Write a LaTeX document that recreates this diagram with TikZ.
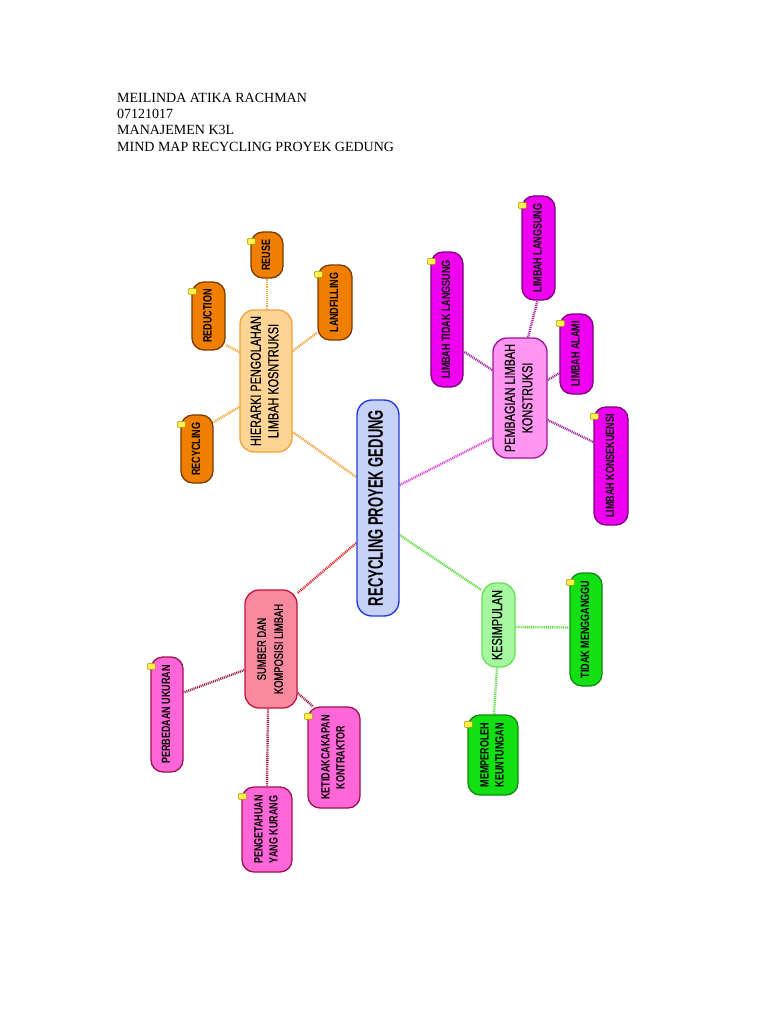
\documentclass[tikz,border=0pt]{standalone}
\usepackage{fontspec}
\usepackage{graphicx}
\usepackage{tikz}
\usetikzlibrary{calc, backgrounds}
\usepackage{xcolor}
\setmainfont{Liberation Serif}
\newfontfamily\mapfont[FakeStretch=0.75]{Liberation Sans}
\newfontfamily\midfont[FakeStretch=0.75, FakeBold=0.5]{Liberation Sans}
\newfontfamily\rootfont[FakeStretch=0.62]{Liberation Sans}

\definecolor{rootfill}{HTML}{C8D2F8}
\definecolor{rootline}{HTML}{1F3FE0}
\definecolor{orangemid}{HTML}{FFD596}
\definecolor{orangeline}{HTML}{F2A23A}
\definecolor{orangeleaf}{HTML}{F07F00}
\definecolor{brownline}{HTML}{7A3B00}
\definecolor{magentamid}{HTML}{FF96F2}
\definecolor{magentaline}{HTML}{A010A0}
\definecolor{magentaleaf}{HTML}{F000F0}
\definecolor{purpleline}{HTML}{7E007E}
\definecolor{magentalink}{HTML}{E040E0}
\definecolor{purplelink}{HTML}{A0209A}
\definecolor{redmid}{HTML}{F8899E}
\definecolor{redline}{HTML}{C4143E}
\definecolor{redlink}{HTML}{E0202A}
\definecolor{pinkleaf}{HTML}{FF66D8}
\definecolor{wineline}{HTML}{A0104C}
\definecolor{winelink}{HTML}{A01848}
\definecolor{greenmid}{HTML}{A6F8A0}
\definecolor{greenline}{HTML}{66E055}
\definecolor{greenleaf}{HTML}{12E012}
\definecolor{darkgreen}{HTML}{108A10}
\definecolor{greenlink}{HTML}{5CDC40}
\definecolor{notefill}{HTML}{FFF050}
\definecolor{noteline}{HTML}{A89A00}

\newcommand{\uptext}[1]{\rotatebox{90}{\begin{tabular}{@{}c@{}}#1\end{tabular}}}

\begin{document}
\begin{tikzpicture}[x=1pt, y=-1pt,
    rootbox/.style={draw=rootline, fill=rootfill, line width=1.4pt, rounded corners=15pt, inner sep=0pt, font=\rootfont\bfseries\fontsize{21}{24}\selectfont},
    midbox/.style 2 args={draw=#2, fill=#1, line width=1.3pt, rounded corners=14pt, inner sep=0pt, font=\midfont\fontsize{14.5}{17.5}\selectfont},
    leafbox/.style 2 args={draw=#2, fill=#1, line width=1.3pt, rounded corners=12pt, inner sep=0pt, font=\mapfont\bfseries\fontsize{12}{15}\selectfont},
    link/.style={draw=#1, line width=2.4pt, dash pattern=on 1pt off 0.9pt},
    noteicon/.style={draw=noteline, fill=notefill, line width=0.5pt, rounded corners=1pt, minimum width=8pt, minimum height=6pt, inner sep=0pt}]

    \node[anchor=north west, inner sep=0pt, align=left, font=\fontsize{14}{16.2}\selectfont] (title) at (117,93)
        {MEILINDA ATIKA RACHMAN\\07121017\\MANAJEMEN K3L\\MIND MAP RECYCLING PROYEK GEDUNG};

    \node[rootbox, minimum width=42, minimum height=216] (root) at (378,508) {\uptext{RECYCLING PROYEK GEDUNG}};

    % hierarki
    \node[midbox={orangemid}{orangeline}, minimum width=52, minimum height=142] (hierarki) at (266,381) {\uptext{HIERARKI PENGOLAHAN\\LIMBAH KOSNTRUKSI}};
    \node[leafbox={orangeleaf}{brownline}, minimum width=32, minimum height=46] (reuse) at (267,255) {\uptext{REUSE}};
    \node[leafbox={orangeleaf}{brownline}, minimum width=33, minimum height=68] (reduction) at (208.5,316) {\uptext{REDUCTION}};
    \node[leafbox={orangeleaf}{brownline}, minimum width=34, minimum height=75] (landfilling) at (335,302.5) {\uptext{LANDFILLING}};
    \node[leafbox={orangeleaf}{brownline}, minimum width=32, minimum height=68] (recycling) at (197,449) {\uptext{RECYCLING}};

    % pembagian
    \node[midbox={magentamid}{magentaline}, minimum width=54, minimum height=120] (pembagian) at (520,398) {\uptext{PEMBAGIAN LIMBAH\\KONSTRUKSI}};
    \node[leafbox={magentaleaf}{purpleline}, minimum width=33, minimum height=104] (langsung) at (538.5,248) {\uptext{LIMBAH LANGSUNG}};
    \node[leafbox={magentaleaf}{purpleline}, minimum width=32, minimum height=135] (tidaklangsung) at (447,319.5) {\uptext{LIMBAH TIDAK LANGSUNG}};
    \node[leafbox={magentaleaf}{purpleline}, minimum width=33, minimum height=80] (alami) at (576.5,354) {\uptext{LIMBAH ALAMI}};
    \node[leafbox={magentaleaf}{purpleline}, minimum width=34, minimum height=118] (konsekuensi) at (611,466) {\uptext{LIMBAH KONSEKUENSI}};

    % sumber
    \node[midbox={redmid}{redline}, minimum width=52, minimum height=118, font=\midfont\fontsize{12.5}{17}\selectfont] (sumber) at (271,649) {\uptext{SUMBER DAN\\KOMPOSISI LIMBAH}};
    \node[leafbox={pinkleaf}{wineline}, minimum width=32, minimum height=115] (perbedaan) at (167,714.5) {\uptext{PERBEDAAN UKURAN}};
    \node[leafbox={pinkleaf}{wineline}, minimum width=50, minimum height=85] (pengetahuan) at (267,829.5) {\uptext{PENGETAHUAN\\YANG KURANG}};
    \node[leafbox={pinkleaf}{wineline}, minimum width=52, minimum height=101] (ketidakcakapan) at (334,757.5) {\uptext{KETIDAKCAKAPAN\\KONTRAKTOR}};

    % kesimpulan
    \node[midbox={greenmid}{greenline}, minimum width=33, minimum height=84] (kesimpulan) at (498.5,625) {\uptext{KESIMPULAN}};
    \node[leafbox={greenleaf}{darkgreen}, minimum width=32, minimum height=113] (mengganggu) at (586,629.5) {\uptext{TIDAK MENGGANGGU}};
    \node[leafbox={greenleaf}{darkgreen}, minimum width=50, minimum height=80] (memperoleh) at (493,755) {\uptext{MEMPEROLEH\\KEUNTUNGAN}};

    \foreach \leaf in {reuse, reduction, landfilling, recycling, langsung, tidaklangsung, alami, konsekuensi, perbedaan, pengetahuan, ketidakcakapan, mengganggu, memperoleh}
        \node[noteicon] (note-\leaf) at ($(\leaf.north west)+(1,10)$) {};

    \begin{pgfonlayer}{background}
        \fill[white] (0,0) rectangle (768,1024);
        \draw[link=orangeline] ($(root.west)+(0,-31)$) -- ($(hierarki.east)+(0,51)$);
        \draw[link=orangeline] ($(hierarki.north)+(1,0)$) -- (reuse.south);
        \draw[link=orangeline] ($(hierarki.west)+(0,-29)$) -- ($(reduction.east)+(0,29)$);
        \draw[link=orangeline] ($(hierarki.east)+(0,-30)$) -- ($(landfilling.west)+(0,30)$);
        \draw[link=orangeline] ($(hierarki.west)+(0,26)$) -- ($(recycling.east)+(0,-27)$);

        \draw[link=magentalink] ($(root.east)+(0,-23)$) -- ($(pembagian.west)+(0,40)$);
        \draw[link=purplelink] ($(pembagian.north)+(8,0)$) -- ($(langsung.south)+(-1,0)$);
        \draw[link=purplelink] ($(pembagian.west)+(0,-28)$) -- ($(tidaklangsung.east)+(0,32)$);
        \draw[link=purplelink] ($(pembagian.east)+(0,-18)$) -- ($(alami.west)+(0,19)$);
        \draw[link=purplelink] ($(pembagian.east)+(0,22)$) -- ($(konsekuensi.west)+(0,-24)$);

        \draw[link=redlink] ($(root.west)+(0,35)$) -- ($(sumber.east)+(0,-56)$);
        \draw[link=winelink] ($(sumber.west)+(0,21)$) -- ($(perbedaan.east)+(0,-22)$);
        \draw[link=winelink] ($(sumber.south)+(-3,0)$) -- (pengetahuan.north);
        \draw[link=winelink] ($(sumber.east)+(0,44)$) -- ($(ketidakcakapan.north)+(-21,0)$);

        \draw[link=greenlink] ($(root.east)+(0,27)$) -- ($(kesimpulan.west)+(0,-35)$);
        \draw[link=greenlink] ($(kesimpulan.east)+(0,2)$) -- ($(mengganggu.west)+(0,-2)$);
        \draw[link=greenlink] ($(kesimpulan.south)+(-1.5,0)$) -- ($(memperoleh.north)+(1,0)$);
    \end{pgfonlayer}
\end{tikzpicture}
\end{document}
